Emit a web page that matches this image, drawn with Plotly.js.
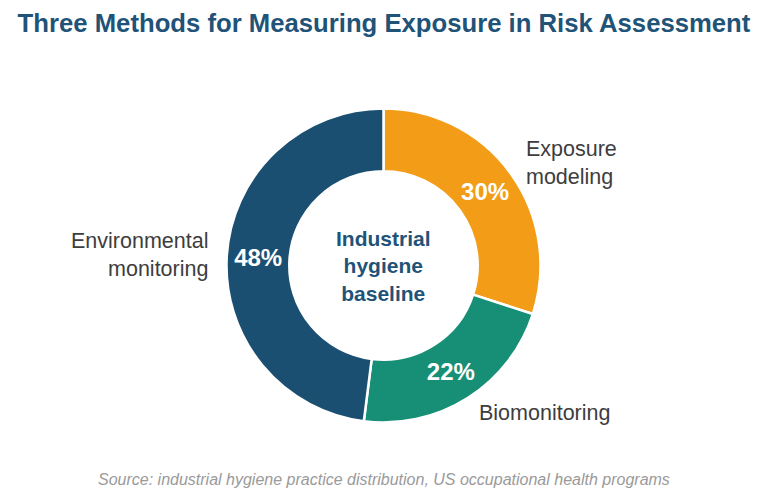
<!DOCTYPE html>
<html>
<head>
<meta charset="utf-8">
<script src="https://cdn.plot.ly/plotly-3.0.1.min.js"></script>
<style>html,body{margin:0;padding:0;background:#fff;}#chart{width:768px;height:501px;}</style>
</head>
<body>
<div id="chart"></div>
<script>
const categories = ["Exposure modeling", "Biomonitoring", "Environmental monitoring"];
const labelLines = ["Exposure<br>modeling", "Biomonitoring", "Environmental<br>monitoring"];
const shares = [30, 22, 48];
const colors = ["#f39c17", "#168f76", "#1b4f72"];
const centerText = "Industrial<br>hygiene<br>baseline";
const titleText = "Three Methods for Measuring Exposure in Risk Assessment";
const sourceText = "Source: industrial hygiene practice distribution, US occupational health programs";

const W = 768, H = 501;
const cx = 383.5, cy = 265.5, R = 157;
const dom = {
  x: [(cx - R) / W, (cx + R) / W],
  y: [(H - cy - R) / H, (H - cy + R) / H]
};
const FONT = "Liberation Sans, Arial, sans-serif";

// outside label positions derived from slice mid-angles
const total = shares.reduce((a, b) => a + b, 0);
let cum = 0;
const annotations = [];
shares.forEach((v, i) => {
  const mid = (cum + v / 2) / total * 2 * Math.PI;
  cum += v;
  const rr = R * 1.11;
  const dx = rr * Math.sin(mid), dy = rr * Math.cos(mid);
  annotations.push({
    xref: "paper", yref: "paper",
    x: (cx + dx) / W, y: (H - cy + dy) / H,
    xanchor: dx >= 0 ? "left" : "right", yanchor: "middle",
    align: dx >= 0 ? "left" : "right",
    text: labelLines[i], showarrow: false,
    font: {family: FONT, size: 21.5, color: "#3d3d3d"}
  });
});
annotations.push({
  xref: "paper", yref: "paper", x: cx / W, y: (H - cy) / H,
  xanchor: "center", yanchor: "middle", text: "<b>" + centerText + "</b>",
  showarrow: false,
  font: {family: FONT, size: 21, color: "#1f5378"}
});
annotations.push({
  xref: "paper", yref: "paper", x: 0.5, y: (H - 479) / H,
  xanchor: "center", yanchor: "middle", text: "<i>" + sourceText + "</i>",
  showarrow: false,
  font: {family: FONT, size: 16, color: "#9a9a9a"}
});

const trace = {
  type: "pie",
  labels: categories,
  values: shares,
  hole: 0.6,
  sort: false,
  direction: "clockwise",
  rotation: 0,
  domain: dom,
  marker: {colors: colors, line: {color: "#ffffff", width: 2.5}},
  textinfo: "percent",
  texttemplate: "<b>%{percent:.0%}</b>",
  textposition: "inside",
  insidetextorientation: "horizontal",
  textfont: {family: FONT, size: 24, color: "#ffffff"},
  showlegend: false,
  hoverinfo: "label+percent"
};

const layout = {
  width: W, height: H,
  margin: {l: 0, r: 0, t: 0, b: 0},
  paper_bgcolor: "#ffffff",
  title: {
    text: "<b>" + titleText + "</b>",
    x: 0.5, xanchor: "center", y: 1 - 23 / H, yanchor: "middle",
    font: {family: FONT, size: 25.7, color: "#1f5378"}
  },
  annotations: annotations,
  showlegend: false
};

Plotly.newPlot("chart", [trace], layout, {displayModeBar: false, staticPlot: true});
</script>
</body>
</html>
